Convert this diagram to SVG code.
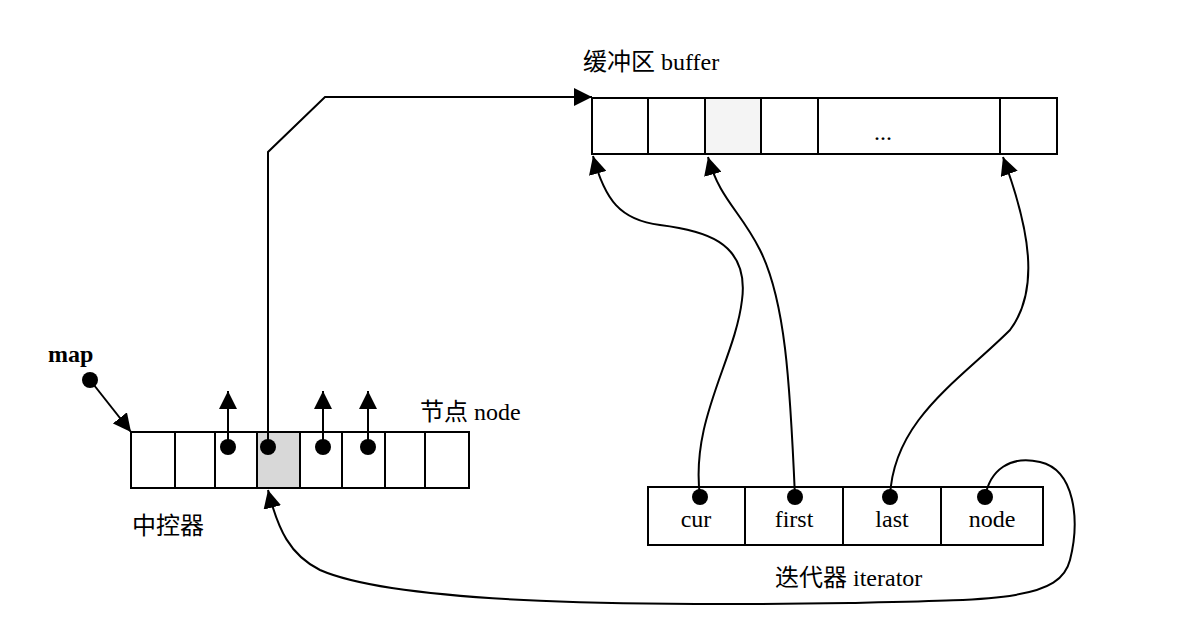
<svg xmlns="http://www.w3.org/2000/svg" width="1201" height="636" viewBox="0 0 1201 636">
<style>
.c{fill:#fff;stroke:#000;stroke-width:2}
.l{fill:none;stroke:#000;stroke-width:2}
.t{font-family:"Liberation Serif","Noto Sans CJK SC",serif;font-size:24px;fill:#000}
</style>
<defs>
<marker id="b" viewBox="0 0 10 10" refX="10" refY="5" markerWidth="18" markerHeight="18" markerUnits="userSpaceOnUse" orient="auto"><path d="M0,0L10,5L0,10z"/></marker>
</defs>
<rect width="1201" height="636" fill="#fff"/>
<g id="buffer">
<rect class="c" x="592" y="98" width="465" height="56"/>
<rect x="706" y="99" width="54" height="54" fill="#f4f4f4"/>
<path class="l" d="M648,98V154M705,98V154M761,98V154M818,98V154M1000,98V154"/>
<text class="t" x="883" y="140" text-anchor="middle" font-size="18">...</text>
<text class="t" x="583" y="70">缓冲区 buffer</text>
</g>
<g id="map-array">
<rect class="c" x="131" y="432" width="338" height="56"/>
<rect x="257" y="432" width="43" height="56" fill="#d8d8d8" stroke="#000" stroke-width="2"/>
<path class="l" d="M175,432V488M215,432V488M342,432V488M385,432V488M425,432V488"/>
<text class="t" x="420" y="420">节点 node</text>
<text class="t" x="132" y="534">中控器</text>
</g>
<g id="map">
<text class="t" x="48" y="362" font-weight="bold">map</text>
<circle cx="90" cy="380" r="8"/>
</g>
<g id="iterator">
<rect class="c" x="648" y="487" width="395" height="58"/>
<path class="l" d="M745,487V545M843,487V545M941,487V545"/>
<text class="t" x="696" y="527" text-anchor="middle">cur</text>
<text class="t" x="794" y="527" text-anchor="middle">first</text>
<text class="t" x="892" y="527" text-anchor="middle">last</text>
<text class="t" x="992" y="527" text-anchor="middle">node</text>
<text class="t" x="775" y="586">迭代器 iterator</text>
</g>
<g id="connectors">
<path class="l" d="M90,380L131,432" marker-end="url(#b)"/>
<circle cx="228" cy="447" r="8"/><path class="l" d="M228,447V391" marker-end="url(#b)"/>
<circle cx="323" cy="447" r="8"/><path class="l" d="M323,447V391" marker-end="url(#b)"/>
<circle cx="368" cy="447" r="8"/><path class="l" d="M368,447V391" marker-end="url(#b)"/>
<circle cx="268" cy="447" r="8"/><path class="l" d="M268,447V152L325,97H592" marker-end="url(#b)"/>
<circle cx="700" cy="497" r="8"/><path class="l" d="M700,497C690,420 735,360 742,300C750,240 700,230 660,225C620,220 605,200 593,156" marker-end="url(#b)"/>
<circle cx="795" cy="497" r="8"/><path class="l" d="M795,497C790,380 785,300 760,250C740,210 720,200 708,157" marker-end="url(#b)"/>
<circle cx="890" cy="497" r="8"/><path class="l" d="M890,497C893,420 960,380 1010,330C1040,290 1030,230 1003,157" marker-end="url(#b)"/>
<circle cx="985" cy="497" r="8"/><path class="l" d="M985,497C990,470 1010,455 1040,462C1075,470 1080,520 1070,560C1060,600 1000,600 850,603C650,606 400,605 320,570C290,555 278,530 268,490" marker-end="url(#b)"/>
</g>
</svg>
